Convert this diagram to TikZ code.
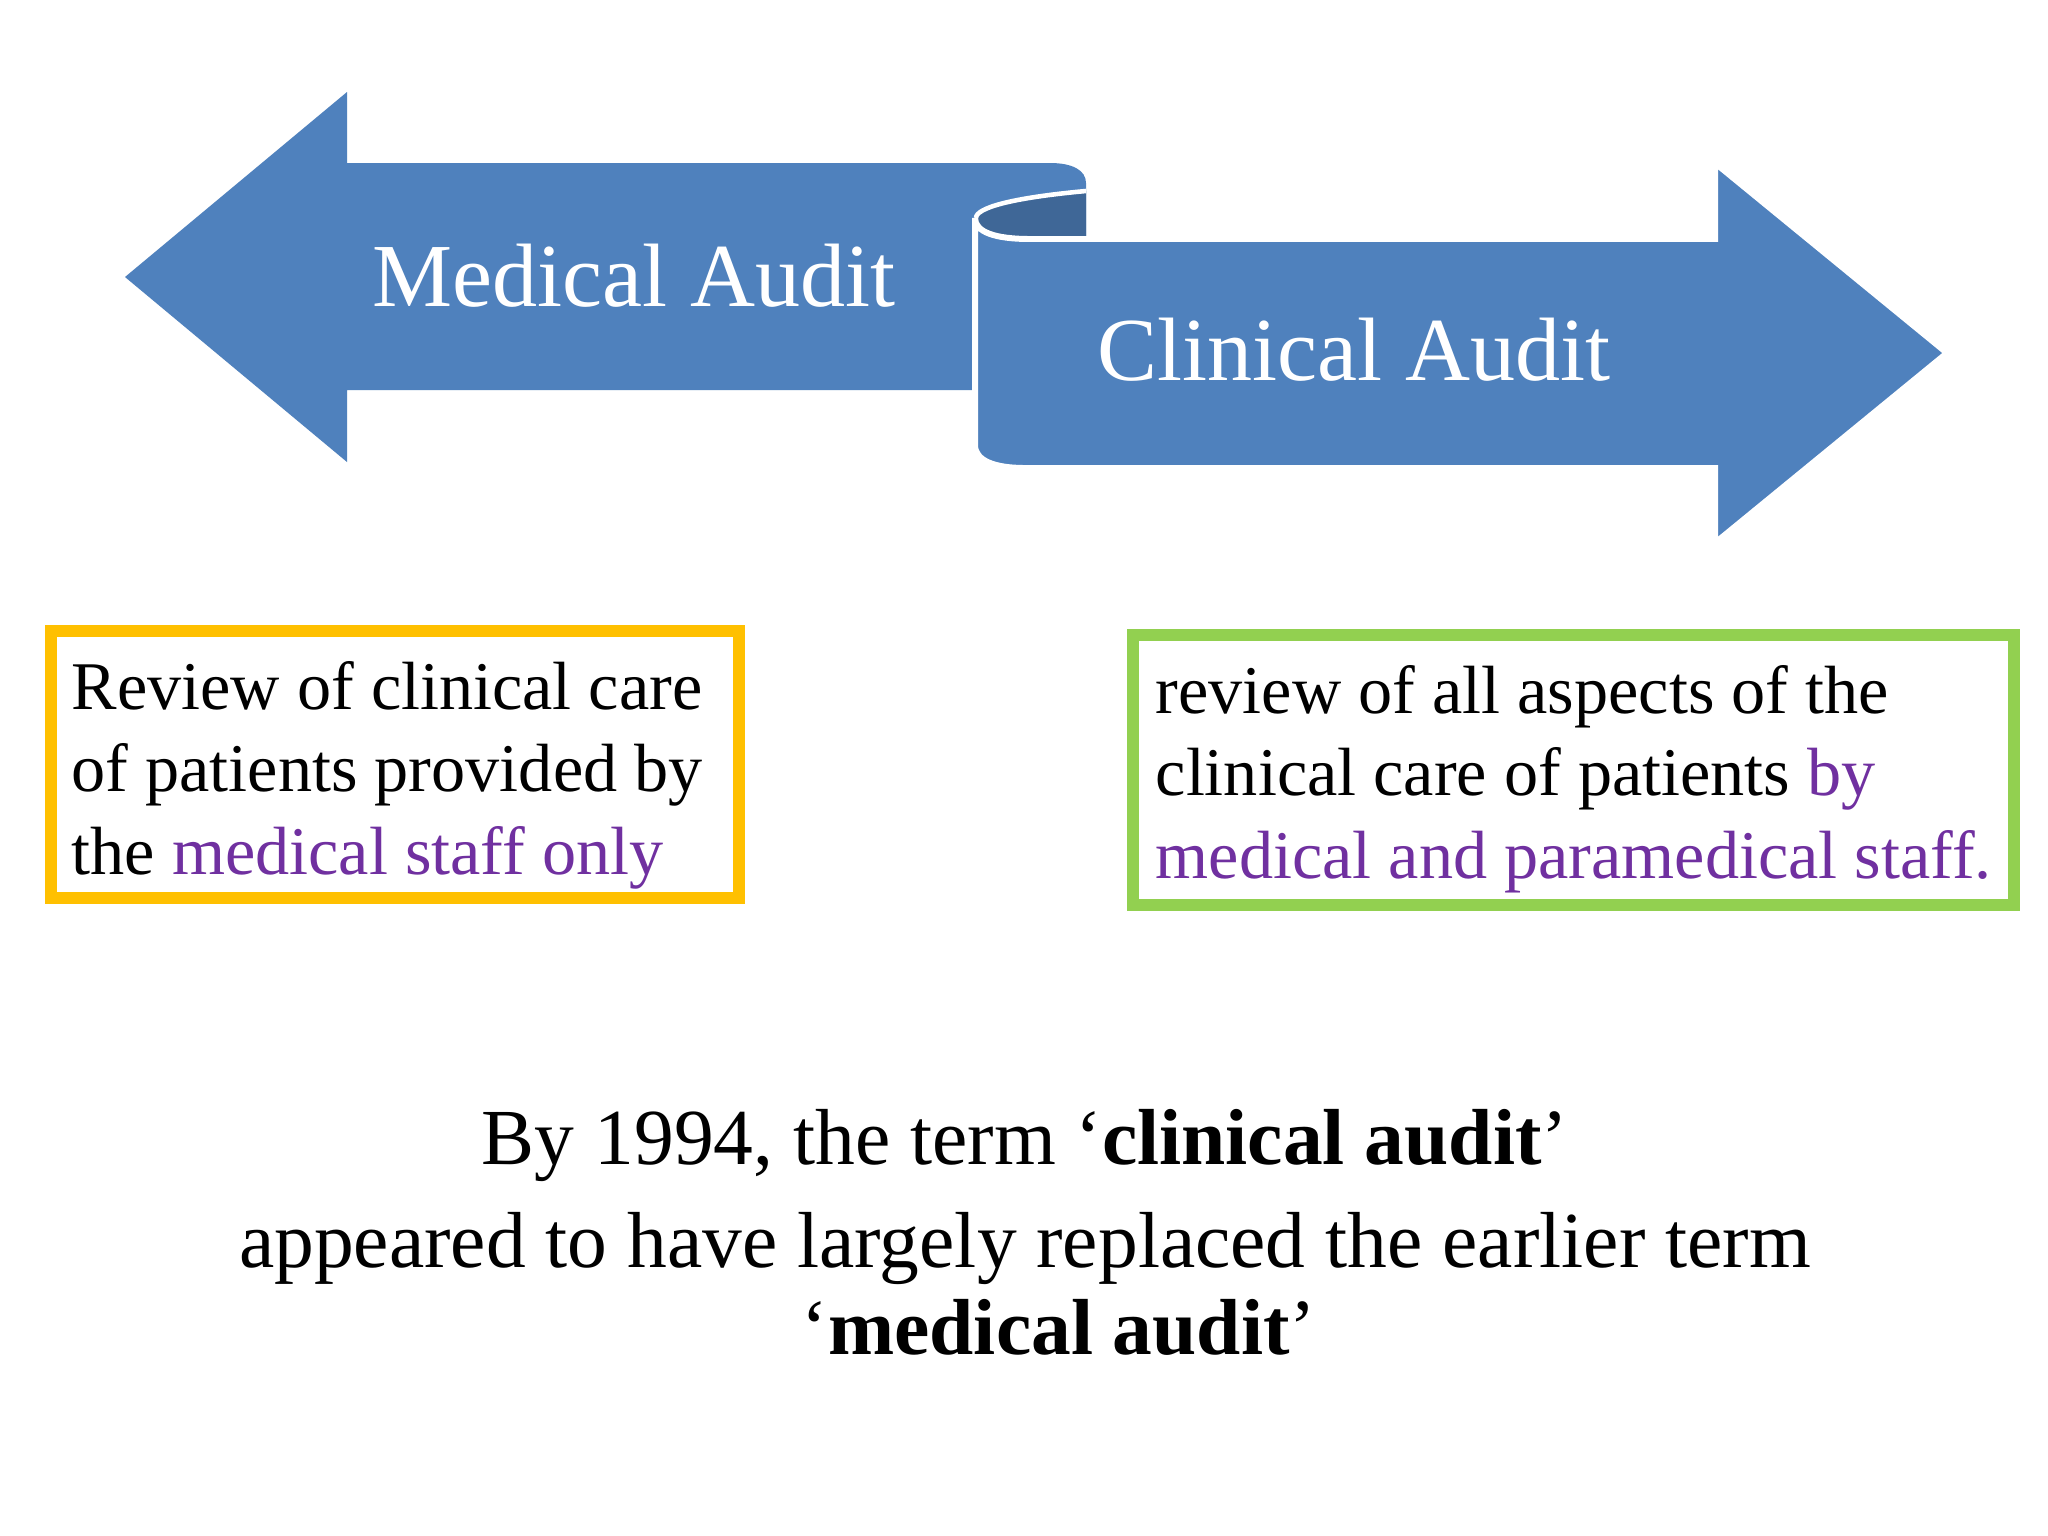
\documentclass[tikz,border=0pt]{standalone}
\usepackage{fontspec}
\setmainfont{Liberation Serif}
\definecolor{ribbon}{RGB}{79,129,189}
\definecolor{ribbondark}{RGB}{63,103,151}
\definecolor{purp}{RGB}{112,48,160}
\definecolor{orangebox}{RGB}{255,192,0}
\definecolor{greenbox}{RGB}{146,208,80}
\tikzset{
  arrowtext/.style={anchor=base, text=white, inner sep=0pt, font=\fontsize{25.6}{30}\selectfont},
  boxtext/.style={anchor=base west, inner sep=0pt, font=\fontsize{19.4}{23.3}\selectfont},
  bottomtext/.style={anchor=base, inner sep=0pt, font=\fontsize{22.6}{27}\selectfont},
  framebox/.style={line width=3.3pt},
}
\begin{document}
\begin{tikzpicture}[x=0.01cm,y=-0.01cm]
\useasboundingbox (0,0) rectangle (2048,1536);
\fill[white] (0,0) rectangle (2048,1536);
% left arrow (back part of ribbon)
\fill[ribbon] (125,277) -- (347,92) -- (347,163) -- (1050,163)
  .. controls (1072,163) and (1086,170) .. (1086,183)
  -- (1086,242) -- (977,242) -- (977,390) -- (347,390) -- (347,462) -- cycle;
% inside of the curl
\fill[ribbondark] (976,218) .. controls (976,208) and (1010,198) .. (1086,191)
  -- (1086,242) -- (1030,242) .. controls (995,242) and (976,232) .. cycle;
\draw[white, line width=1.3pt] (976,218) .. controls (976,208) and (1010,198) .. (1086,191);
% right arrow (front part of ribbon)
\filldraw[fill=ribbon, draw=white, line width=1.7pt]
  (975,218) .. controls (975,232) and (995,239) .. (1030,239)
  -- (1715,239) -- (1715,163) -- (1947,353) -- (1715,543) -- (1715,468)
  -- (1025,468) .. controls (993,468) and (975,460) .. (975,445) -- cycle;
\node[arrowtext] (ma) at (634,306) {Medical Audit};
\node[arrowtext] (ca) at (1354,380) {Clinical Audit};
% boxes
\draw[framebox, orangebox] (51,631) rectangle (739,898);
\draw[framebox, greenbox] (1133,635) rectangle (2014,905);
\node[boxtext] (l1) at (71,709) {Review of clinical care};
\node[boxtext] (l2) at (71,791) {of patients provided by};
\node[boxtext] (l3) at (71,874) {the \textcolor{purp}{medical staff only}};
\node[boxtext] (r1) at (1155,713) {review of all aspects of the};
\node[boxtext] (r2) at (1155,795) {clinical care of patients \textcolor{purp}{by}};
\node[boxtext] (r3) at (1155,878) {\textcolor{purp}{medical and paramedical staff.}};
% bottom text
\node[bottomtext] (b1) at (1025,1164) {By 1994, the term ‘\textbf{clinical audit}’};
\node[bottomtext] (b2) at (1025,1267) {appeared to have largely replaced the earlier term};
\node[bottomtext] (b3) at (1059,1354) {‘\textbf{medical audit}’};
\end{tikzpicture}
\end{document}
